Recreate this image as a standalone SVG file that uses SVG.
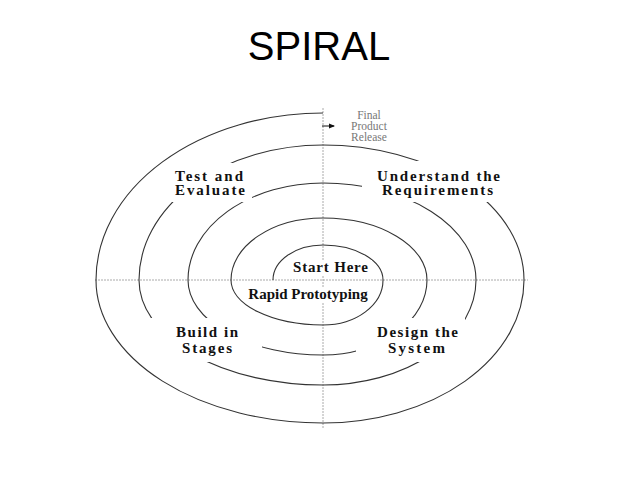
<svg xmlns="http://www.w3.org/2000/svg" width="638" height="478" viewBox="0 0 638 478">
<style>
.lbl{font-family:"Liberation Serif",serif;font-weight:bold;font-size:15px;fill:#111}
.fin{font-family:"Liberation Serif",serif;font-size:11.5px;fill:#777}
.sp{fill:none;stroke:#333;stroke-width:1.1}
.ax{stroke:#aaa;stroke-width:1;stroke-dasharray:2 1}
</style>
<defs>
<mask id="m">
<rect x="0" y="0" width="638" height="478" fill="#fff"/>
<rect x="165" y="163" width="87" height="39" fill="#000"/>
<rect x="362" y="161" width="143" height="41" fill="#000"/>
<rect x="150" y="318" width="112" height="44" fill="#000"/>
<rect x="356" y="318" width="109" height="44" fill="#000"/>
<rect x="288" y="260" width="84" height="16" fill="#000"/>
<rect x="255" y="288" width="107" height="15" fill="#000"/>
<rect x="340" y="108" width="56" height="36" fill="#000"/>
</mask>
<marker id="ar" markerWidth="6" markerHeight="6" refX="5" refY="3" orient="auto"><path d="M0,0.5 L6,3 L0,5.5 Z" fill="#111"/></marker>
</defs>
<text x="319" y="60" text-anchor="middle" font-family="Liberation Sans,Arial,sans-serif" font-size="40">SPIRAL</text>
<g id="connectors" mask="url(#m)">
<line class="ax" x1="95" y1="280" x2="528" y2="280"/>
<line class="ax" x1="323" y1="108" x2="323" y2="428"/>
<path class="sp" d="M273,280 A50,35 0 0 1 323,245 A60,35 0 0 1 383,280 A60,45 0 0 1 323,325 A92,45 0 0 1 231,280 A92,62 0 0 1 323,218 A104,62 0 0 1 427,280 A104,75 0 0 1 323,355 A135,75 0 0 1 188,280 A135,97 0 0 1 323,183 A153,97 0 0 1 476,280 A153,105 0 0 1 323,385 A184,105 0 0 1 139,280 A184,135 0 0 1 323,145 A201,135 0 0 1 524,280 A201,143 0 0 1 323,423 A227,143 0 0 1 96,280 A227,167 0 0 1 323,113"/>
<line x1="322" y1="126" x2="334" y2="126" stroke="#111" stroke-width="1" marker-end="url(#ar)"/>
</g>
<g id="test"><text class="lbl" x="175" y="181" textLength="68">Test and</text><text class="lbl" x="175" y="195" textLength="70">Evaluate</text></g>
<g id="understand"><text class="lbl" x="377" y="181" textLength="123">Understand the</text><text class="lbl" x="382" y="195" textLength="111">Requirements</text></g>
<g id="start"><text class="lbl" x="293" y="272" font-size="13" textLength="75">Start Here</text></g>
<g id="rapid"><text class="lbl" x="308" y="299" font-size="11.5" text-anchor="middle">Rapid Prototyping</text></g>
<g id="build"><text class="lbl" x="176" y="337" textLength="62">Build in</text><text class="lbl" x="182" y="353" textLength="50">Stages</text></g>
<g id="design"><text class="lbl" x="377" y="337" textLength="81">Design the</text><text class="lbl" x="388" y="353" textLength="57">System</text></g>
<g id="final"><text class="fin" x="369" y="119" text-anchor="middle">Final</text><text class="fin" x="369" y="130" text-anchor="middle">Product</text><text class="fin" x="369" y="141" text-anchor="middle">Release</text></g>
</svg>
